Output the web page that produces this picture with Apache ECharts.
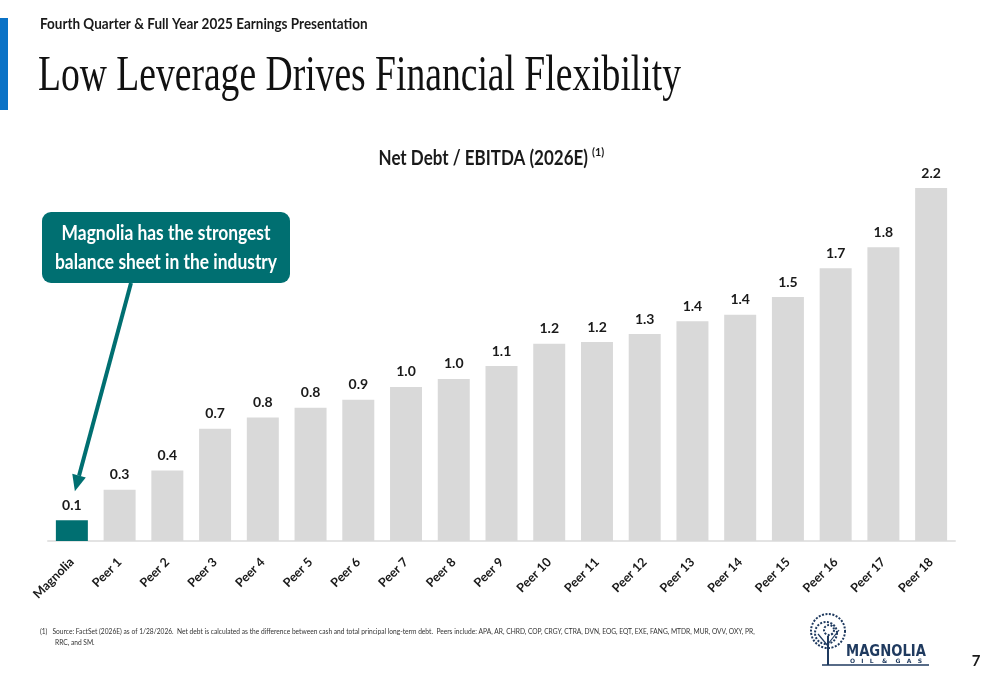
<!DOCTYPE html>
<html>
<head>
<meta charset="utf-8">
<script src="https://cdn.jsdelivr.net/npm/echarts@6/dist/echarts.min.js"></script>
<style>
  html, body { margin: 0; padding: 0; background: #fff; }
  #chart { width: 1000px; height: 685px; }
</style>
</head>
<body>
<div id="chart"></div>
<script>
// net debt / EBITDA (2026E)
const companies = ['Magnolia', 'Peer 1', 'Peer 2', 'Peer 3', 'Peer 4', 'Peer 5', 'Peer 6', 'Peer 7', 'Peer 8', 'Peer 9',
  'Peer 10', 'Peer 11', 'Peer 12', 'Peer 13', 'Peer 14', 'Peer 15', 'Peer 16', 'Peer 17', 'Peer 18']
const leverage = [0.13, 0.32, 0.44, 0.70, 0.77, 0.83, 0.88, 0.96, 1.01, 1.09,
  1.23, 1.24, 1.29, 1.37, 1.41, 1.52, 1.70, 1.83, 2.20]
const highlightName = 'Magnolia'

const TEAL = '#006F71'
const GREY = '#D9D9D9'
const TEXT = '#1a1a1a'
const NAVY = '#1F3A5F'
const SANS = 'Lato, "Open Sans", sans-serif'

const chart = echarts.init(document.getElementById('chart'))

const barData = leverage.map((v, i) => ({
  value: v,
  itemStyle: { color: companies[i] === highlightName ? TEAL : GREY }
}))

const footnote = '(1)   Source: FactSet (2026E) as of 1/28/2026.  Net debt is calculated as the difference between cash and total principal long-term debt.  Peers include: APA, AR, CHRD, COP, CRGY, CTRA, DVN, EOG, EQT, EXE, FANG, MTDR, MUR, OVV, OXY, PR,'

// little dotted tree for the logo
const canopy = [
  [0, 0, 17], [-2, 2, 11], [1, -1, 5]
].map(([dx, dy, r]) => ({
  type: 'circle', shape: { cx: 20 + dx, cy: 17 + dy, r },
  style: { fill: 'none', stroke: NAVY, lineWidth: 2, lineDash: [2, 1.5] }
}))

const slideGraphics = [
  { type: 'rect', shape: { x: 0, y: 18, width: 8, height: 92 }, style: { fill: '#0A72C6' } },
  {
    type: 'text', x: 40, y: 17, scaleX: 0.9,
    style: { text: 'Fourth Quarter & Full Year 2025 Earnings Presentation', fill: TEXT, font: 'bold 15px ' + SANS }
  },
  {
    type: 'text', x: 38, y: 51, scaleX: 0.737,
    style: { text: 'Low Leverage Drives Financial Flexibility', fill: '#111', font: '51px "Liberation Serif", "Times New Roman", serif' }
  },
  {
    type: 'text', x: 588, y: 159, scaleX: 0.85,
    style: { text: 'Net Debt / EBITDA (2026E)', fill: TEXT, font: 'bold 20px ' + SANS, align: 'right', verticalAlign: 'middle' }
  },
  {
    type: 'text', x: 592, y: 152, scaleX: 0.9,
    style: { text: '(1)', fill: TEXT, font: 'bold 12px ' + SANS, align: 'left', verticalAlign: 'middle' }
  },
  {
    type: 'rect', shape: { x: 42, y: 212, width: 248, height: 71, r: 9 },
    style: { fill: TEAL }
  },
  {
    type: 'text', x: 166, y: 248, scaleX: 0.87,
    style: {
      text: 'Magnolia has the strongest\nbalance sheet in the industry',
      fill: '#fff', font: 'bold 20px ' + SANS, align: 'center', verticalAlign: 'middle', lineHeight: 29
    }
  },
  {
    type: 'text', x: 40, y: 627, scaleX: 0.83,
    style: { text: footnote, fill: '#333', font: '8px ' + SANS }
  },
  {
    type: 'text', x: 55, y: 638, scaleX: 0.83,
    style: { text: 'RRC, and SM.', fill: '#333', font: '8px ' + SANS }
  },
  {
    type: 'text', x: 976, y: 661,
    style: { text: '7', fill: TEXT, font: 'bold 15px ' + SANS, align: 'center', verticalAlign: 'middle' }
  },
  // logo
  {
    type: 'group', x: 808, y: 614,
    children: canopy.concat([
      { type: 'line', shape: { x1: 20, y1: 22, x2: 20, y2: 51 }, style: { stroke: NAVY, lineWidth: 2 } },
      { type: 'line', shape: { x1: 20, y1: 32, x2: 10, y2: 20 }, style: { stroke: NAVY, lineWidth: 1.2 } },
      { type: 'line', shape: { x1: 20, y1: 30, x2: 31, y2: 16 }, style: { stroke: NAVY, lineWidth: 1.2 } },
      { type: 'line', shape: { x1: 14, y1: 51, x2: 121, y2: 51 }, style: { stroke: NAVY, lineWidth: 1.5 } },
      {
        type: 'text', x: 78, y: 38, scaleX: 0.88,
        style: { text: 'MAGNOLIA', fill: NAVY, font: 'bold 15px "DejaVu Sans", sans-serif', align: 'center', verticalAlign: 'middle' }
      },
      {
        type: 'text', x: 78, y: 47,
        style: { text: 'O   I   L    &    G   A   S', fill: NAVY, font: 'bold 6px "DejaVu Sans", sans-serif', align: 'center', verticalAlign: 'middle' }
      }
    ])
  }
]

const option = {
  animation: false,
  backgroundColor: '#fff',
  grid: { left: 48, right: 45, top: 188, bottom: 144 },
  xAxis: {
    type: 'category',
    data: companies,
    axisTick: { show: false },
    axisLine: { lineStyle: { color: '#E3E3E3', width: 2 } },
    axisLabel: {
      rotate: 45,
      margin: 19,
      interval: 0,
      color: TEXT,
      fontFamily: SANS,
      fontWeight: 'bold',
      fontSize: 12.5
    }
  },
  yAxis: {
    type: 'value',
    min: 0,
    max: 2.2,
    show: false,
    splitLine: { show: false }
  },
  series: [{
    type: 'bar',
    data: barData,
    barCategoryGap: '33%',
    label: {
      show: true,
      position: 'top',
      distance: 8,
      color: TEXT,
      fontFamily: SANS,
      fontWeight: 'bold',
      fontSize: 14,
      formatter: p => p.value.toFixed(1)
    }
  }],
  graphic: slideGraphics
}

chart.setOption(option)

// callout arrow pointing at the highlighted bar's label
const hi = companies.indexOf(highlightName)
const barTop = chart.convertToPixel({ seriesIndex: 0 }, [hi, leverage[hi]])
const from = [131, 283]
const tip = [barTop[0] + 3, barTop[1] - 29]
const dx = tip[0] - from[0], dy = tip[1] - from[1]
const len = Math.sqrt(dx * dx + dy * dy)
const ux = dx / len, uy = dy / len
const headLen = 16, headW = 7
const base = [tip[0] - ux * headLen, tip[1] - uy * headLen]
chart.setOption({
  graphic: slideGraphics.concat([
    {
      type: 'line',
      shape: { x1: from[0], y1: from[1], x2: base[0], y2: base[1] },
      style: { stroke: TEAL, lineWidth: 4 }
    },
    {
      type: 'polygon',
      shape: {
        points: [
          tip,
          [base[0] - uy * headW, base[1] + ux * headW],
          [base[0] + uy * headW, base[1] - ux * headW]
        ]
      },
      style: { fill: TEAL }
    }
  ])
})
</script>
</body>
</html>
